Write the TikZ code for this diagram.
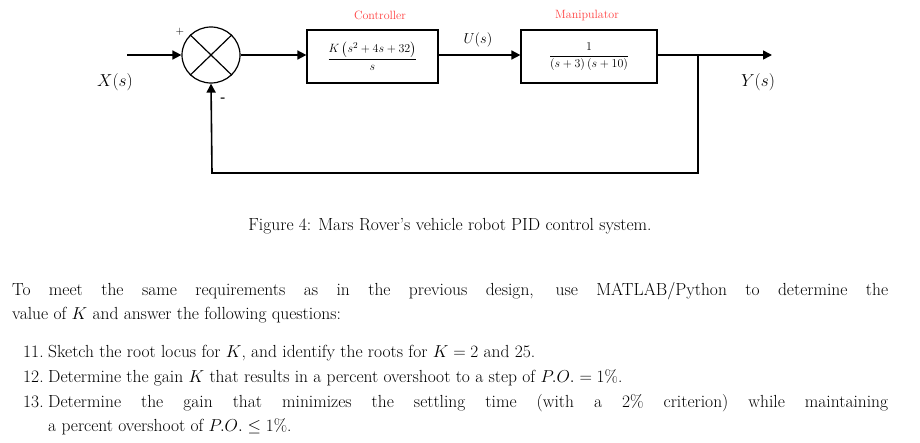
\documentclass[tikz,border=0pt]{standalone}
\usepackage{amsmath,amssymb}
\usetikzlibrary{arrows.meta,shapes.geometric}
\begin{document}
\begin{tikzpicture}[x=1pt,y=-1pt,
  blk/.style={draw,line width=1.2pt,minimum width=#1,minimum height=53pt,inner sep=0pt},
  lbl/.style={text=red!75!white,font=\fontsize{12}{14}\selectfont},
  sig/.style={line width=1.6pt},
  arr/.style={sig,-{Triangle[length=9pt,width=9pt]}},
  txt/.style={anchor=base west,inner sep=0pt,font=\fontsize{17.5}{20}\selectfont}]
\useasboundingbox (0,0) rectangle (920,442);
\node[draw,ellipse,line width=1.2pt,minimum width=58pt,minimum height=56pt,inner sep=0pt] (sum) at (211,55) {};
\draw[line width=1.2pt] (sum.north west)--(sum.south east) (sum.north east)--(sum.south west);
\node[blk=131pt] (ctrl) at (372.5,56.5) {\fontsize{13}{15}\selectfont$\dfrac{K\left(s^2+4s+32\right)}{s}$};
\node[blk=136pt] (man) at (589,56.5) {\fontsize{13}{15}\selectfont$\dfrac{1}{(s+3)\,(s+10)}$};
\node[lbl] (cl) at (380,15) {Controller};
\node[lbl] (ml) at (587,15) {Manipulator};
\coordinate (in) at (127,55);
\coordinate (out) at (772,55);
\coordinate (br) at (698,55);
\coordinate (c1) at (698,173);
\coordinate (c2) at (212,173);
\draw[arr] (in) -- (sum.west);
\draw[arr] (sum.east) -- (ctrl.west |- sum.east);
\draw[arr] (ctrl.east |- 0,55) -- (man.west |- 0,55);
\draw[arr] (man.east |- 0,55) -- (out);
\draw[arr] (br) -- (c1) -- (c2) -- (sum.south);
\node[font=\fontsize{14}{16}\selectfont] (u) at (478,40) {$U(s)$};
\node[font=\fontsize{19}{22}\selectfont] (x) at (115,82) {$X(s)$};
\node[font=\fontsize{19}{22}\selectfont] (y) at (758,82) {$Y(s)$};
\node[font=\fontsize{11}{12}\selectfont] (p) at (180,32) {$+$};
\node[font=\fontsize{13}{14}\selectfont\bfseries] (m) at (223,100) {-};
\node[font=\fontsize{17.5}{20}\selectfont] (cap) at (450,226) {Figure 4: Mars Rover's vehicle robot PID control system.};
\node[txt] (l1) at (12,295) {\makebox[876pt][s]{To meet the same requirements as in the previous design, use MATLAB/Python to determine the}};
\node[txt] (l2) at (12,319) {value of $K$ and answer the following questions:};
\node[txt] (n1) at (23,357) {11.};
\node[txt] (t1) at (48,357) {Sketch the root locus for $K$, and identify the roots for $K=2$ and 25.};
\node[txt] (n2) at (23,382) {12.};
\node[txt] (t2) at (48,382) {Determine the gain $K$ that results in a percent overshoot to a step of $P.O.=1\%$.};
\node[txt] (n3) at (23,407) {13.};
\node[txt] (t3) at (48,407) {\makebox[840pt][s]{Determine the gain that minimizes the settling time (with a 2\% criterion) while maintaining}};
\node[txt] (t4) at (48,431) {a percent overshoot of $P.O.\leq 1\%$.};
\end{tikzpicture}
\end{document}
